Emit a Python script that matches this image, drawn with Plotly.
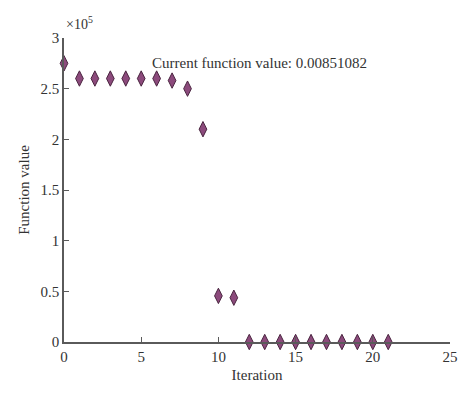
import plotly.graph_objects as go

iterations = list(range(22))
# function values in units of 1e5
func_values = [2.75, 2.60, 2.60, 2.60, 2.60, 2.60, 2.60, 2.58, 2.50, 2.10,
               0.455, 0.437, 0.0, 0.0, 0.0, 0.0, 0.0, 0.0, 0.0, 0.0, 0.0, 0.0]
x_ticks = [0, 5, 10, 15, 20, 25]
y_ticks = [0, 0.5, 1, 1.5, 2, 2.5, 3]
y_tick_labels = ["0", "0.5", "1", "1.5", "2", "2.5", "3"]

FONT = "Liberation Serif"
AX = "#5a5a5a"
TXT = "#333333"

fig = go.Figure()
fig.add_trace(go.Scatter(
    x=iterations, y=func_values, mode="markers",
    marker=dict(symbol="diamond-tall", size=11, color="#8c4a7c",
                line=dict(color="#4a2540", width=1)),
    cliponaxis=False, showlegend=False,
))

fig.update_layout(
    width=466, height=389,
    margin=dict(l=56, r=24, t=30, b=55, autoexpand=False),
    paper_bgcolor="white", plot_bgcolor="white",
    font=dict(family=FONT, size=14, color=TXT),
    xaxis=dict(range=[0, 25], tickvals=x_ticks, showgrid=False, zeroline=False,
               showline=True, linecolor=AX, linewidth=1.5, ticks="inside",
               ticklen=5, tickcolor=AX, tickfont=dict(family=FONT, size=15, color=TXT),
               automargin=False,
               title=dict(text="Iteration", font=dict(family=FONT, size=15, color=TXT), standoff=6)),
    yaxis=dict(range=[0, 3], tickvals=y_ticks, ticktext=y_tick_labels, showgrid=False,
               zeroline=False, showline=True, linecolor=AX, linewidth=1.5, ticks="inside",
               ticklen=5, tickcolor=AX, tickfont=dict(family=FONT, size=15, color=TXT),
               automargin=False,
               title=dict(text="Function value", font=dict(family=FONT, size=15, color=TXT), standoff=7)),
    annotations=[
        dict(x=5.55, y=2.75, xref="x", yref="y", xanchor="left", yanchor="middle",
             text="Current function value: 0.00851082", showarrow=False,
             font=dict(family=FONT, size=15, color=TXT)),
        dict(x=0, y=1, xref="x", yref="paper", xanchor="left", yanchor="bottom", yshift=4,
             text="×10<sup>5</sup>", showarrow=False,
             font=dict(family=FONT, size=14, color=TXT)),
    ],
)

fig.write_html("out.html")
